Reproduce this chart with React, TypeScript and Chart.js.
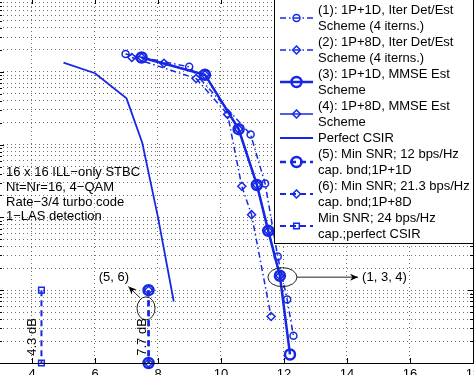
import React, { useEffect, useRef } from "react";
import { Chart, registerables } from "chart.js";
Chart.register(...registerables);

const BLUE = "rgb(22,40,228)";
const FAMILY = '"Liberation Sans", Arial, Helvetica, sans-serif';
const FONT = `13px ${FAMILY}`;

// ---- axes ----
const X_MIN = 2.9524;
const X_MAX = 18;
const xTickValues = [4, 6, 8, 10, 12, 14, 16, 18];
const yDecades = [1e-5, 1e-4, 1e-3, 1e-2, 1e-1, 1];
const yMinorMultipliers = [2, 3, 4, 5, 6, 7, 8, 9];

// ---- data (SNR in dB, BER) ----
const iter1P1D_snr = [6.97, 8.99, 10.94, 11.4, 11.8, 12.1, 12.3];
const iter1P1D_ber = [0.175, 0.117, 0.0138, 2.92e-3, 2.91e-4, 7.45e-5, 2.36e-5];

const iter1P8D_snr = [7.17, 9.21, 10.21, 10.66, 10.97, 11.59];
const iter1P8D_ber = [0.157, 0.081, 0.026, 2.68e-3, 1.09e-3, 4.35e-5];

const mmse1P1D_snr = [7.48, 9.49, 10.56, 11.14, 11.5, 11.87, 12.19];
const mmse1P1D_ber = [0.157, 0.0912, 0.0163, 2.79e-3, 6.53e-4, 1.58e-4, 1.31e-5];

const mmse1P8D_snr = [7.48, 8.19, 9.49, 10.56, 11.14, 11.5, 11.87];
const mmse1P8D_ber = [0.157, 0.131, 0.0912, 0.0163, 2.79e-3, 6.53e-4, 1.58e-4];

const perfect_snr = [5, 6, 7, 7.5, 8, 8.5];
const perfect_ber = [0.134, 0.0957, 0.0432, 0.0106, 1.0e-3, 7.0e-5];

const minSnr12_snr = [7.7, 7.7];
const minSnr12_ber = [1e-4, 1e-5];
const minSnr213_snr = [7.7, 7.7];
const minSnr213_ber = [1e-4, 1e-5];
const minSnr24_snr = [4.3, 4.3];
const minSnr24_ber = [1e-4, 1e-5];

// ---- texts ----
const legendTexts: string[][] = [
  ["(1): 1P+1D, Iter Det/Est", "Scheme (4 iterns.)"],
  ["(2): 1P+8D, Iter Det/Est", "Scheme (4 iterns.)"],
  ["(3): 1P+1D, MMSE Est", "Scheme"],
  ["(4): 1P+8D, MMSE Est", "Scheme"],
  ["Perfect CSIR"],
  ["(5): Min SNR; 12 bps/Hz", "cap. bnd;1P+1D"],
  ["(6): Min SNR; 21.3 bps/Hz", "cap. bnd;1P+8D"],
  ["Min SNR; 24 bps/Hz", "cap.;perfect CSIR"],
];
const noteLines = ["16 x 16 ILL\u2212only STBC", "Nt=Nr=16, 4\u2212QAM", "Rate\u22123/4 turbo code", "1\u2212LAS detection"];
const noteAnchor = { x: 3.175, y: 4.14e-3 };
const label56 = "(5, 6)";
const label134 = "(1, 3, 4)";
const dB77 = "7.7 dB";
const dB43 = "4.3 dB";

const pts = (xs: number[], ys: number[]) => xs.map((x, i) => ({ x, y: ys[i] }));

const DASHDOT = [6, 3, 1.5, 3];
const DASHED = [6, 4];

function makeDatasets() {
  const base = {
    borderColor: BLUE,
    pointBorderColor: BLUE,
    pointBackgroundColor: "rgba(255,255,255,0)",
    fill: false,
    tension: 0,
    clip: false as any,
  };
  return [
    { ...base, label: "1", data: pts(iter1P1D_snr, iter1P1D_ber), borderWidth: 1.5, borderDash: DASHDOT, pointStyle: "circle", pointRadius: 3.5, pointBorderWidth: 1.5 },
    { ...base, label: "2", data: pts(iter1P8D_snr, iter1P8D_ber), borderWidth: 1.5, borderDash: DASHDOT, pointStyle: "rectRot", pointRadius: 4, pointBorderWidth: 1.5 },
    { ...base, label: "3", data: pts(mmse1P1D_snr, mmse1P1D_ber), borderWidth: 2.5, borderDash: [], pointStyle: "circle", pointRadius: 5, pointBorderWidth: 2.5 },
    { ...base, label: "4", data: pts(mmse1P8D_snr, mmse1P8D_ber), borderWidth: 1.5, borderDash: [], pointStyle: "rectRot", pointRadius: 4, pointBorderWidth: 1.5 },
    { ...base, label: "P", data: pts(perfect_snr, perfect_ber), borderWidth: 1.8, borderDash: [], pointStyle: "circle", pointRadius: 0, pointBorderWidth: 0 },
    { ...base, label: "5", data: pts(minSnr12_snr, minSnr12_ber), borderWidth: 2.5, borderDash: DASHED, pointStyle: "circle", pointRadius: 5, pointBorderWidth: 2.5 },
    { ...base, label: "6", data: pts(minSnr213_snr, minSnr213_ber), borderWidth: 2, borderDash: DASHED, pointStyle: "rectRot", pointRadius: 4, pointBorderWidth: 1.5 },
    { ...base, label: "7", data: pts(minSnr24_snr, minSnr24_ber), borderWidth: 2, borderDash: DASHED, pointStyle: "rect", pointRadius: 4, pointBorderWidth: 1.5 },
  ];
}

function drawMarker(ctx: CanvasRenderingContext2D, style: string, x: number, y: number, r: number, w: number) {
  if (!r) return;
  ctx.save();
  ctx.setLineDash([]);
  ctx.lineWidth = w;
  ctx.strokeStyle = BLUE;
  ctx.beginPath();
  if (style === "circle") ctx.arc(x, y, r, 0, Math.PI * 2);
  else if (style === "rectRot") {
    ctx.moveTo(x, y - r);
    ctx.lineTo(x + r, y);
    ctx.lineTo(x, y + r);
    ctx.lineTo(x - r, y);
    ctx.closePath();
  } else {
    const s = r * Math.SQRT1_2;
    ctx.rect(x - s, y - s, 2 * s, 2 * s);
  }
  ctx.stroke();
  ctx.restore();
}

function arrow(ctx: CanvasRenderingContext2D, x1: number, y1: number, x2: number, y2: number) {
  ctx.beginPath();
  ctx.moveTo(x1, y1);
  ctx.lineTo(x2, y2);
  ctx.stroke();
  const a = Math.atan2(y2 - y1, x2 - x1);
  const L = 8, W = 3.5;
  ctx.beginPath();
  ctx.moveTo(x2, y2);
  ctx.lineTo(x2 - L * Math.cos(a) + W * Math.sin(a), y2 - L * Math.sin(a) - W * Math.cos(a));
  ctx.lineTo(x2 - L * 0.7 * Math.cos(a), y2 - L * 0.7 * Math.sin(a));
  ctx.lineTo(x2 - L * Math.cos(a) - W * Math.sin(a), y2 - L * Math.sin(a) + W * Math.cos(a));
  ctx.closePath();
  ctx.fill();
}

const overlayPlugin = {
  id: "overlay",
  afterDraw(chart: any) {
    const ctx: CanvasRenderingContext2D = chart.ctx;
    const a = chart.chartArea;
    const xs = chart.scales.x;
    const ys = chart.scales.y;
    const X = (v: number) => xs.getPixelForValue(v);
    const Y = (v: number) => ys.getPixelForValue(v);
    ctx.save();
    // box
    ctx.strokeStyle = "#000";
    ctx.lineWidth = 1;
    ctx.setLineDash([]);
    ctx.strokeRect(a.left + 0.5, a.top + 0.5, a.right - a.left, a.bottom - a.top);
    // inward ticks
    ctx.beginPath();
    for (const v of xTickValues) {
      const px = Math.round(X(v)) + 0.5;
      ctx.moveTo(px, a.top); ctx.lineTo(px, a.top + 5);
      ctx.moveTo(px, a.bottom); ctx.lineTo(px, a.bottom - 5);
    }
    for (const d of yDecades) {
      const py = Math.round(Y(d)) + 0.5;
      ctx.moveTo(a.left, py); ctx.lineTo(a.left + 5, py);
      ctx.moveTo(a.right, py); ctx.lineTo(a.right - 5, py);
      if (d < 1) for (const m of yMinorMultipliers) {
        const q = Math.round(Y(d * m)) + 0.5;
        ctx.moveTo(a.left, q); ctx.lineTo(a.left + 3, q);
        ctx.moveTo(a.right, q); ctx.lineTo(a.right - 3, q);
      }
    }
    ctx.stroke();

    // annotations
    ctx.fillStyle = "#000";
    ctx.font = FONT;
    ctx.textBaseline = "middle";
    ctx.textAlign = "left";
    const nx = X(noteAnchor.x), ny = Y(noteAnchor.y);
    noteLines.forEach((t, i) => ctx.fillText(t, nx, ny + i * 14.8));

    // (5, 6)
    ctx.strokeStyle = "#222";
    ctx.lineWidth = 1;
    ctx.beginPath();
    ctx.ellipse(X(7.62), Y(5.63e-5), 9, 11.5, 0, 0, Math.PI * 2);
    ctx.stroke();
    arrow(ctx, X(7.43), Y(7.85e-5), X(7.06), Y(1.125e-4));
    ctx.textAlign = "center";
    ctx.fillText(label56, X(6.6), Y(1.48e-4));

    // (1, 3, 4)
    ctx.beginPath();
    ctx.ellipse(X(11.95), Y(1.51e-4), 14.5, 9.5, 0, 0, Math.PI * 2);
    ctx.stroke();
    arrow(ctx, X(12.41), Y(1.51e-4), X(14.35), Y(1.51e-4));
    ctx.textAlign = "left";
    ctx.fillText(label134, X(14.48), Y(1.51e-4));

    // rotated dB labels
    const rot = (t: string, x: number, y: number) => {
      ctx.save();
      ctx.translate(x, y);
      ctx.rotate(-Math.PI / 2);
      ctx.textAlign = "center";
      ctx.fillText(t, 0, 0);
      ctx.restore();
    };
    rot(dB77, X(7.49), Y(2.28e-5));
    rot(dB43, X(4.0), Y(2.28e-5));

    // legend
    const L = a.right - 199;
    const B = a.top + 244;
    ctx.fillStyle = "#fff";
    ctx.fillRect(L, a.top - 5, a.right - L, B - a.top + 5);
    ctx.strokeStyle = "#000";
    ctx.lineWidth = 1;
    ctx.strokeRect(L + 0.5, a.top - 5, a.right - L, B - a.top + 5.5);
    ctx.fillStyle = "#000";
    ctx.textAlign = "left";
    let line = 0;
    legendTexts.forEach((lines, k) => {
      const ds = chart.data.datasets[k];
      const y0 = a.top + 11 + line * 16;
      const symY = y0 + (lines.length - 1) * 8;
      ctx.save();
      ctx.strokeStyle = BLUE;
      ctx.lineWidth = ds.borderWidth;
      ctx.setLineDash(ds.borderDash || []);
      ctx.beginPath();
      ctx.moveTo(L + 6, symY);
      ctx.lineTo(L + 39, symY);
      ctx.stroke();
      ctx.restore();
      drawMarker(ctx, ds.pointStyle, L + 22.5, symY, ds.pointRadius, ds.pointBorderWidth);
      ctx.fillStyle = "#000";
      lines.forEach((t, j) => ctx.fillText(t, L + 44, y0 + j * 16));
      line += lines.length;
    });
    ctx.restore();
  },
};

const noPad = (s: any) => {
  s.paddingLeft = 0;
  s.paddingRight = 0;
  s.paddingTop = 0;
  s.paddingBottom = 0;
};

export default function App() {
  const ref = useRef<HTMLCanvasElement>(null);
  useEffect(() => {
    const gridColor = "rgba(0,0,0,0.55)";
    const chart = new Chart(ref.current as HTMLCanvasElement, {
      type: "line",
      data: { datasets: makeDatasets() as any },
      options: {
        responsive: false,
        animation: false,
        events: [],
        layout: { autoPadding: false, padding: { left: 0, top: 0, right: 2, bottom: 26 } },
        plugins: { legend: { display: false }, tooltip: { enabled: false } },
        scales: {
          x: {
            type: "linear",
            min: X_MIN,
            max: X_MAX,
            afterBuildTicks: (s: any) => { s.ticks = xTickValues.map((v) => ({ value: v })); },
            afterFit: (s: any) => { s.height = 30; noPad(s); },
            grid: { color: gridColor, lineWidth: 1, drawTicks: false },
            border: { display: false, dash: [1, 3] },
            ticks: { color: "#000", font: { family: FAMILY, size: 13 }, padding: 4, maxRotation: 0, autoSkip: false, callback: (v: any) => String(v) },
          },
          y: {
            type: "logarithmic",
            min: 1e-5,
            max: 1,
            afterBuildTicks: (s: any) => {
              const t: any[] = [];
              yDecades.forEach((d) => {
                t.push({ value: d, major: true });
                if (d < 1) yMinorMultipliers.forEach((m) => t.push({ value: d * m }));
              });
              s.ticks = t;
            },
            afterFit: (s: any) => { s.width = 0; noPad(s); },
            grid: { color: gridColor, lineWidth: 1, drawTicks: false },
            border: { display: false, dash: [1, 3] },
            ticks: { display: false },
          },
        },
      } as any,
      plugins: [overlayPlugin],
    });
    return () => chart.destroy();
  }, []);
  return (
    <div style={{ position: "fixed", left: 0, top: 0, width: 474, height: 375, overflow: "hidden", background: "#fff" }}>
      <canvas ref={ref} width={476} height={420} style={{ position: "absolute", left: -1, top: -1, width: 476, height: 420 }} />
    </div>
  );
}
